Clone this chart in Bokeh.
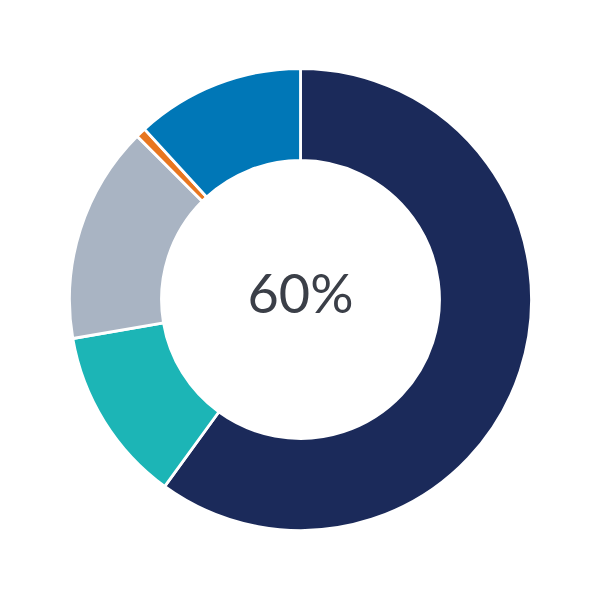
import math
from bokeh.plotting import figure
from bokeh.models import ColumnDataSource, Range1d
from bokeh.core.properties import value
from bokeh.embed import file_html
from bokeh.resources import INLINE

categories = ["Navy", "Teal", "Gray", "Orange", "Blue"]
shares = [60.0, 12.3, 15.2, 0.7, 11.8]
colors = ["#1b2a5a", "#1cb5b6", "#a9b4c3", "#e8761f", "#0077b7"]
center_label = "60%"

total = sum(shares)
starts, ends = [], []
cum = 0.0
for s in shares:
    starts.append(math.pi / 2 - cum / total * 2 * math.pi)
    cum += s
    ends.append(math.pi / 2 - cum / total * 2 * math.pi)

src = ColumnDataSource(dict(cat=categories, val=shares, color=colors,
                            start=starts, end=ends,
                            x=[0] * len(shares), y=[0] * len(shares)))

p = figure(width=584, height=583, output_backend="svg", toolbar_location=None,
           x_range=Range1d(-300, 284), y_range=Range1d(-284, 299),
           min_border=0, match_aspect=False)
p.axis.visible = False
p.grid.visible = False
p.outline_line_color = None
p.background_fill_color = "white"
p.border_fill_color = "white"

p.annular_wedge(x="x", y="y", inner_radius=139, outer_radius=231,
                start_angle="start", end_angle="end", direction="clock",
                fill_color="color", line_color="white", line_width=2.8,
                source=src)

p.text(x=[0], y=[7], text=[center_label], text_align="center",
       text_baseline="middle", text_font=value("Lato"),
       text_font_size="54px", text_color="#3b3f48")

open("out.html", "w").write(file_html(p, INLINE))
